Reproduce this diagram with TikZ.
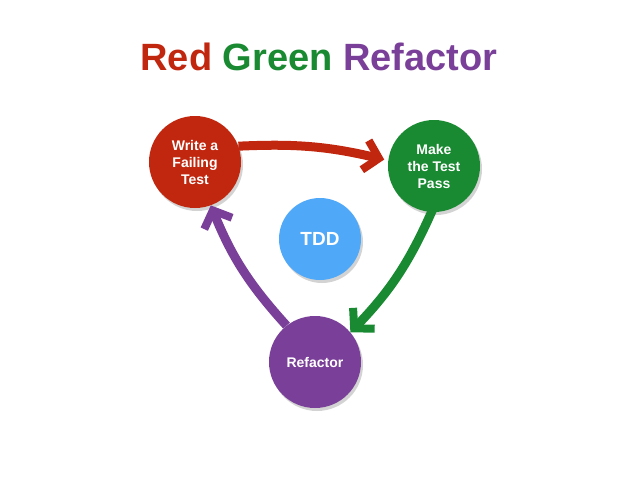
\documentclass[tikz,border=0pt]{standalone}
\usepackage{fontspec}
\setmainfont{Liberation Sans}
\usetikzlibrary{arrows.meta,shadows}
\definecolor{cred}{HTML}{C1270F}
\definecolor{cgreen}{HTML}{1A8A32}
\definecolor{cpurple}{HTML}{7A3F98}
\definecolor{cblue}{HTML}{4FA8F8}
\begin{document}
\begin{tikzpicture}[x=1pt,y=-1pt,
  stage/.style={circle,minimum size=92pt,inner sep=0pt,text=white,font=\bfseries\fontsize{14}{17}\selectfont,align=center,drop shadow={shadow xshift=2pt,shadow yshift=-3pt,opacity=0.35}},
  flow/.style={line width=9pt,-{Straight Barb[length=14pt,width=30pt,line width=8pt]}}]
\useasboundingbox (0,0) rectangle (638,479);
\node (title) at (319,57) {\bfseries\fontsize{38}{42}\selectfont\textcolor{cred}{Red} \textcolor{cgreen}{Green} \textcolor{cpurple}{Refactor}};
\node[stage,fill=cred] (w) at (195,162) {Write a\\Failing\\Test};
\node[stage,fill=cgreen] (m) at (434,166) {Make\\the Test\\Pass};
\node[stage,fill=cpurple] (r) at (315,362) {Refactor};
\node[stage,fill=cblue,minimum size=82pt,font=\bfseries\fontsize{19}{22}\selectfont] (t) at (320,239) {TDD};
\draw[flow,cred] (w.20) to[bend left=8] ([xshift=-4pt]m.172);
\draw[flow,cgreen] ([yshift=2pt]m.268) to[bend left=10] (r.40);
\draw[flow,cpurple] (r.128) to[bend left=10] (w.-70);
\end{tikzpicture}
\end{document}
